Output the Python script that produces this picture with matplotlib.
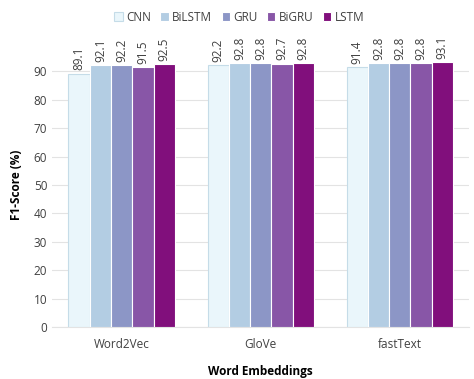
import numpy as np
import matplotlib.pyplot as plt

plt.rcParams['font.family'] = ['Open Sans', 'DejaVu Sans']

embeddings = ['Word2Vec', 'GloVe', 'fastText']
models = ['CNN', 'BiLSTM', 'GRU', 'BiGRU', 'LSTM']
scores = {
    'CNN':    [89.1, 92.2, 91.4],
    'BiLSTM': [92.1, 92.8, 92.8],
    'GRU':    [92.2, 92.8, 92.8],
    'BiGRU':  [91.5, 92.7, 92.8],
    'LSTM':   [92.5, 92.8, 93.1],
}
colors = ['#EAF6FB', '#B3CDE3', '#8C96C6', '#8856A7', '#810F7C']
edges = ['#C5DCE8', 'white', 'white', 'white', 'white']

fig = plt.figure(figsize=(4.74, 3.79), dpi=100)
ax = fig.add_axes([0.11, 0.137, 0.88, 0.75])

x = np.arange(len(embeddings))
w = 0.153
for i, m in enumerate(models):
    pos = x + (i - 2) * w
    bars = ax.bar(pos, scores[m], w, color=colors[i], edgecolor=edges[i],
                  linewidth=0.8, label=m, zorder=3)
    for b, v in zip(bars, scores[m]):
        ax.text(b.get_x() + b.get_width() / 2, v + 1.2, f'{v:.1f}',
                rotation=90, ha='center', va='bottom', fontsize=8.5,
                color='#404040')

ax.set_xlim(-0.5, 2.5)
ax.set_ylim(0, 100)
ax.set_yticks(np.arange(0, 100, 10))
ax.set_xticks(x)
ax.set_xticklabels(embeddings)
ax.tick_params(length=0, labelsize=8.5, colors='#404040')
ax.tick_params(axis='x', pad=8)
ax.grid(axis='y', color='#E3E3E3', linewidth=0.8, zorder=0)
for s in ['top', 'right', 'left']:
    ax.spines[s].set_visible(False)
ax.spines['bottom'].set_color('#E3E3E3')

ax.set_xlabel('Word Embeddings', fontsize=8.5, fontweight='bold', labelpad=10)
ax.set_ylabel('F1-Score (%)', fontsize=8.5, fontweight='bold', labelpad=8)

fig.legend(loc='upper center', bbox_to_anchor=(0.505, 1.0), ncol=5, frameon=False,
           fontsize=8.5, handlelength=0.7, handleheight=0.7, handletextpad=0.3,
           columnspacing=0.8, labelcolor='#404040')

fig.savefig('out.png', dpi=100)
